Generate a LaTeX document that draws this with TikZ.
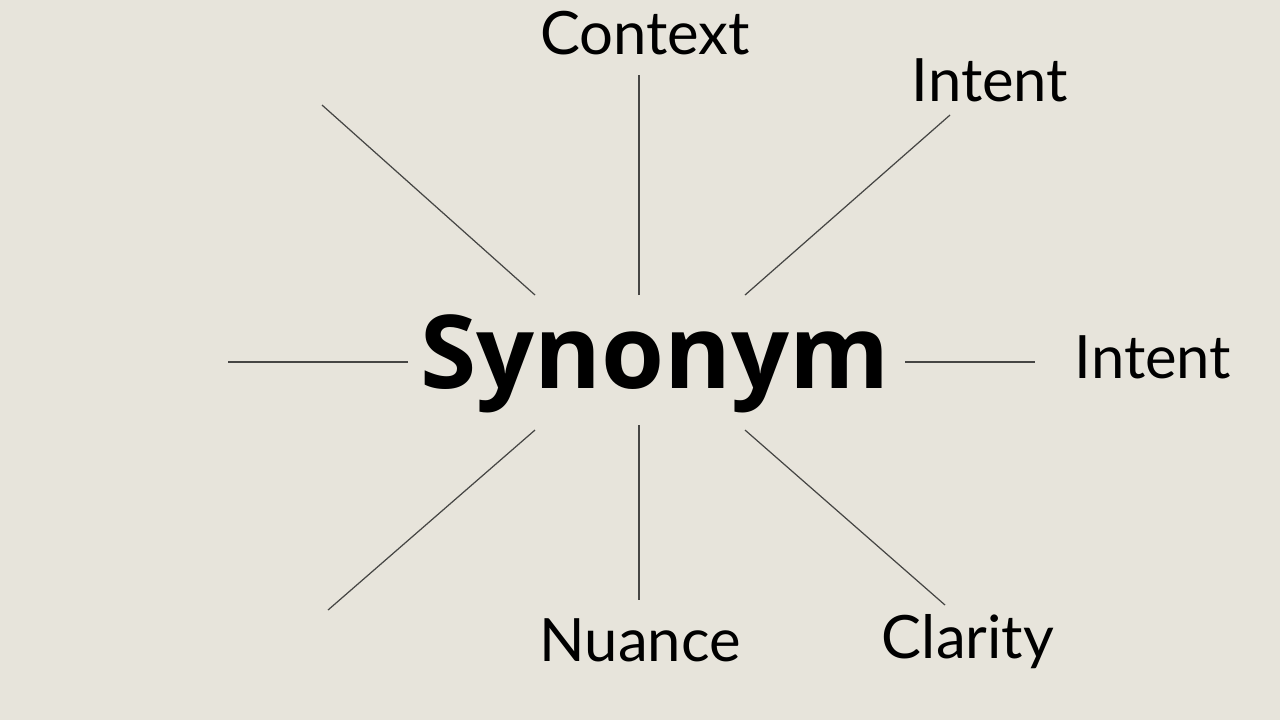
\documentclass[tikz,border=0pt]{standalone}
\usepackage{fontspec}
\setmainfont{Lato}
\newfontfamily\hubfont{Open Sans}
\definecolor{paper}{RGB}{231,228,219}
\definecolor{ray}{RGB}{70,70,68}
\begin{document}
\begin{tikzpicture}[x=0.01cm,y=-0.01cm,%
% the big word in the middle:
hub/.style = {font=\hubfont\fontsize{29}{34}\selectfont\bfseries, text=black, inner sep=0},
% the words round it:
leaf/.style = {font=\fontsize{17}{20}\selectfont, text=black, inner sep=0},
% the rays:
spoke/.style = {draw=ray, line width=0.35pt}]
\fill[paper] (0,0) rectangle (1280,720);
\useasboundingbox (0,0) rectangle (1280,720);
\node[hub] (syn) at (655,364) {Synonym};
\node[leaf] (context) at (645,33) {Context};
\node[leaf] (intentA) at (990,80) {Intent};
\node[leaf] (intentB) at (1153,357) {Intent};
\node[leaf] (nuance) at (640,640) {Nuance};
\node[leaf] (clarity) at (968,642) {Clarity};
% inner ends
\coordinate (n-in) at (639,295);
\coordinate (ne-in) at (745,295);
\coordinate (e-in) at (905,362);
\coordinate (se-in) at (745,430);
\coordinate (s-in) at (639,425);
\coordinate (sw-in) at (535,430);
\coordinate (w-in) at (408,362);
\coordinate (nw-in) at (535,295);
% outer ends
\coordinate (n-out) at (639,75);
\coordinate (ne-out) at (950,115);
\coordinate (e-out) at (1035,362);
\coordinate (se-out) at (945,605);
\coordinate (s-out) at (639,600);
\coordinate (sw-out) at (328,610);
\coordinate (w-out) at (228,362);
\coordinate (nw-out) at (322,105);
\foreach \d in {n,ne,e,se,s,sw,w,nw}
  \draw[spoke] (\d-in) -- (\d-out);
\end{tikzpicture}
\end{document}
